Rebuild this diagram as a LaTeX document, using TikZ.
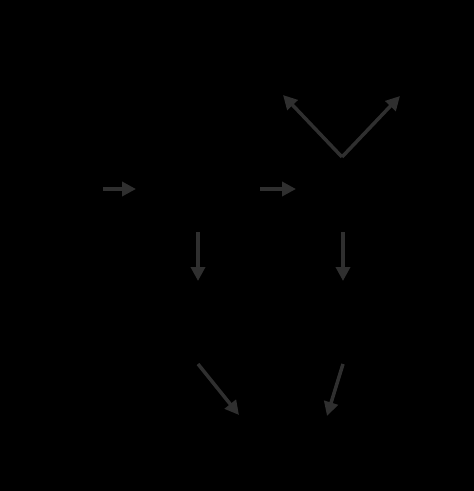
\documentclass[tikz,border=0pt]{standalone}
\usetikzlibrary{arrows.meta}
\definecolor{arrowgray}{HTML}{2F2F2F}
\tikzset{
  flow/.style={draw=arrowgray, line width=3.5pt, -{Triangle[length=14pt,width=14pt]}, shorten >=0pt}
}
\begin{document}
\begin{tikzpicture}[x=1pt,y=-1pt]
  \fill[black] (0,0) rectangle (474,491);
  \useasboundingbox (0,0) rectangle (474,491);
  % named end points
  \coordinate (a1) at (103,189);
  \coordinate (a2) at (136,189);
  \coordinate (b1) at (260,189);
  \coordinate (b2) at (296,189);
  \coordinate (v) at (342,157);
  \coordinate (vl) at (283,95);
  \coordinate (vr) at (400,96);
  \coordinate (c1) at (198,232);
  \coordinate (c2) at (198,281);
  \coordinate (d1) at (343,232);
  \coordinate (d2) at (343,281);
  \coordinate (e1) at (198,364);
  \coordinate (e2) at (239,415);
  \coordinate (f1) at (343,364);
  \coordinate (f2) at (327,416);
  % connectors
  \draw[flow] (a1) -- (a2);
  \draw[flow] (b1) -- (b2);
  \draw[flow] (v) -- (vl);
  \draw[flow] (v) -- (vr);
  \draw[flow] (c1) -- (c2);
  \draw[flow] (d1) -- (d2);
  \draw[flow] (e1) -- (e2);
  \draw[flow] (f1) -- (f2);
\end{tikzpicture}
\end{document}
